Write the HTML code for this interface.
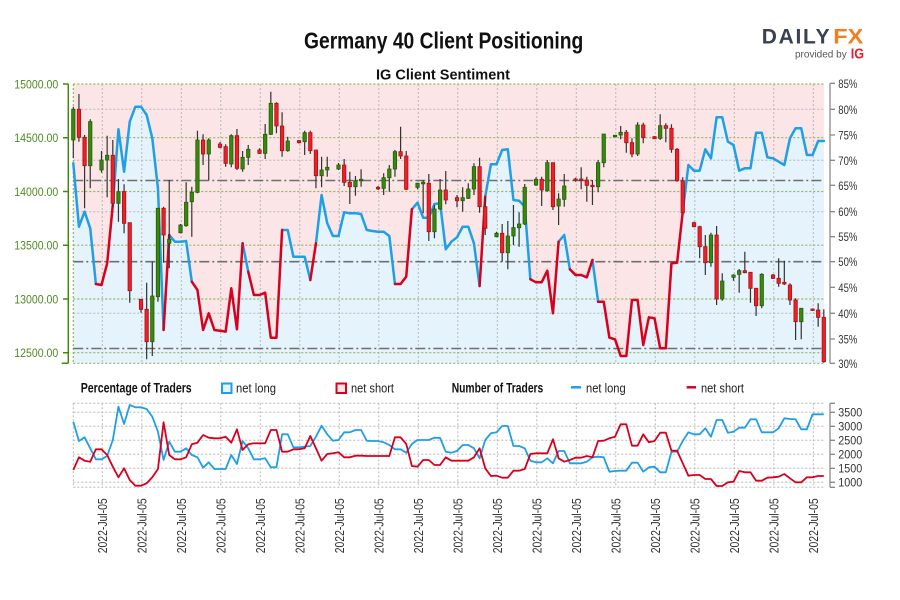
<!DOCTYPE html>
<html>
<head>
<meta charset="utf-8">
<style>
html,body{margin:0;padding:0;background:#fff;}
svg{display:block;}
text{font-family:"Liberation Sans",Arial,sans-serif;}
</style>
</head>
<body>
<svg width="900" height="600" viewBox="0 0 900 600" xmlns="http://www.w3.org/2000/svg">
<rect x="0" y="0" width="900" height="600" fill="#fff"/>

<!-- Titles -->
<text x="304" y="48.3" font-size="23" font-weight="bold" fill="#111" textLength="279.3" lengthAdjust="spacingAndGlyphs">Germany 40 Client Positioning</text>
<text x="376" y="79.3" font-size="14.5" font-weight="bold" fill="#111" textLength="134" lengthAdjust="spacingAndGlyphs">IG Client Sentiment</text>

<!-- Logo -->
<text x="761.7" y="43.3" font-size="21" font-weight="bold" fill="#3a4250" textLength="68" lengthAdjust="spacing">DAILY</text>
<text x="833.3" y="43.3" font-size="21" font-weight="bold" fill="#f47d20" textLength="30" lengthAdjust="spacingAndGlyphs">FX</text>
<text x="795" y="57.3" font-size="10.5" fill="#555" textLength="51.7" lengthAdjust="spacingAndGlyphs">provided by</text>
<text x="850.7" y="58.3" font-size="14.5" font-weight="bold" fill="#e11d2b" textLength="13.3" lengthAdjust="spacingAndGlyphs">IG</text>

<!-- Main plot background -->
<rect x="73.3" y="84" width="750.5" height="279.3" fill="#fce5e6"/>
<g transform="translate(73.3 0) scale(5.643 1)">
<polygon fill="#e5f3fc" points="0,163.3 1,226.7 2,211.7 3,228.3 4,284 5,285 6,263.3 7,205 8,129.3 9,171.7 10,121.7 11,106.7 12,106.7 13,115 14,138.3 15,188.3 16,330 17,235 18,241.7 19,241.7 20,241 21,281.7 22,290 23,330 24,313.3 25,330 26,330.7 27,331.7 28,288.3 29,329.3 30,243.3 31,271.7 32,295 33,295 34,292.7 35,337.7 36,337.7 37,230 38,230 39,256.7 40,256.7 41,256.7 42,280 43,243.3 44,195 45,223.3 46,236 47,236 48,212.3 49,213.3 50,213.3 51,214 52,230 53,231 54,231.7 55,231.7 56,236 57,284 58,284 59,276.7 60,209.3 61,202.7 62,217.7 63,217.7 64,204 65,203.3 66,249.3 67,241.7 68,237.3 69,226.7 70,226.7 71,243.3 72,286 73,196.7 74,164.3 75,164.3 76,150 77,149.3 78,200 79,200.7 80,206.7 81,279.3 82,282.3 83,282.3 84,270.7 85,313.3 86,241.7 87,235 88,269.3 89,275 90,275 91,277.3 92,260 93,301.7 94,301.7 95,337.7 96,339.3 97,356 98,356 99,300 100,300 101,345 102,317.3 103,318.3 104,348.3 105,348.3 106,263.3 107,262.7 108,212 109,165 110,170.7 111,170.7 112,149.3 113,158.3 114,117.3 115,117.3 116,141.7 117,145 118,170.7 119,168.3 120,168.3 121,132.7 122,132.7 123,157.3 124,158.3 125,161.7 126,165 127,138.3 128,128.3 129,128.3 130,155 131,155 132,141 133,141 133,363.3 0,363.3"/>
</g>

<!-- Main grid -->
<path d="M102.3 84V363.3M141.8 84V363.3M181.3 84V363.3M220.8 84V363.3M260.3 84V363.3M299.8 84V363.3M339.3 84V363.3M378.8 84V363.3M418.3 84V363.3M457.8 84V363.3M497.3 84V363.3M536.8 84V363.3M576.3 84V363.3M615.8 84V363.3M655.3 84V363.3M694.8 84V363.3M734.3 84V363.3M773.8 84V363.3M813.3 84V363.3" stroke="#b8b8b8" stroke-width="1" stroke-dasharray="2 2" fill="none"/>
<path d="M73.3 109.3H823.8M73.3 160.3H823.8M73.3 211.7H823.8M73.3 313.3H823.8" stroke="#b8b8b8" stroke-width="1" stroke-dasharray="2 2" fill="none"/>
<path d="M73.3 84H823.8M73.3 137.7H823.8M73.3 191.5H823.8M73.3 245.2H823.8M73.3 299H823.8M73.3 352.7H823.8M73.3 363.3H823.8M73.3 84V363.3" stroke="#93b563" stroke-width="1.2" stroke-dasharray="2 2" fill="none"/>
<path d="M73.3 180.5H823.8M73.3 261.7H823.8M73.3 348.5H823.8" stroke="#6e6e6e" stroke-width="1.6" stroke-dasharray="10 3 2 3" fill="none"/>

<!-- Sentiment line -->
<g transform="translate(73.3 0) scale(5.643 1)" fill="none" stroke-width="2.5" stroke-linejoin="round" stroke-linecap="round">
<g stroke="#1f9fe6">
<polyline vector-effect="non-scaling-stroke" points="0,163.3 1,226.7 2,211.7 3,228.3 4,284"/>
<polyline vector-effect="non-scaling-stroke" points="7,205 8,129.3 9,171.7 10,121.7 11,106.7 12,106.7 13,115 14,138.3 15,188.3 16,330"/>
<polyline vector-effect="non-scaling-stroke" points="17,235 18,241.7 19,241.7 20,241 21,281.7"/>
<polyline vector-effect="non-scaling-stroke" points="30,243.3 31,271.7"/>
<polyline vector-effect="non-scaling-stroke" points="37,230 38,230 39,256.7 40,256.7 41,256.7 42,280"/>
<polyline vector-effect="non-scaling-stroke" points="43,243.3 44,195 45,223.3 46,236 47,236 48,212.3 49,213.3 50,213.3 51,214 52,230 53,231 54,231.7 55,231.7 56,236 57,284"/>
<polyline vector-effect="non-scaling-stroke" points="60,209.3 61,202.7 62,217.7 63,217.7 64,204 65,203.3 66,249.3 67,241.7 68,237.3 69,226.7 70,226.7 71,243.3 72,286"/>
<polyline vector-effect="non-scaling-stroke" points="73,196.7 74,164.3 75,164.3 76,150 77,149.3 78,200 79,200.7 80,206.7 81,279.3"/>
<polyline vector-effect="non-scaling-stroke" points="86,241.7 87,235 88,269.3"/>
<polyline vector-effect="non-scaling-stroke" points="92,260 93,301.7"/>
<polyline vector-effect="non-scaling-stroke" points="108,212 109,165 110,170.7 111,170.7 112,149.3 113,158.3 114,117.3 115,117.3 116,141.7 117,145 118,170.7 119,168.3 120,168.3 121,132.7 122,132.7 123,157.3 124,158.3 125,161.7 126,165 127,138.3 128,128.3 129,128.3 130,155 131,155 132,141 133,141"/>
</g>
<g stroke="#d7001e">
<polyline vector-effect="non-scaling-stroke" points="4,284 5,285 6,263.3 7,205"/>
<polyline vector-effect="non-scaling-stroke" points="16,330 17,235"/>
<polyline vector-effect="non-scaling-stroke" points="21,281.7 22,290 23,330 24,313.3 25,330 26,330.7 27,331.7 28,288.3 29,329.3 30,243.3"/>
<polyline vector-effect="non-scaling-stroke" points="31,271.7 32,295 33,295 34,292.7 35,337.7 36,337.7 37,230"/>
<polyline vector-effect="non-scaling-stroke" points="42,280 43,243.3"/>
<polyline vector-effect="non-scaling-stroke" points="57,284 58,284 59,276.7 60,209.3"/>
<polyline vector-effect="non-scaling-stroke" points="72,286 73,196.7"/>
<polyline vector-effect="non-scaling-stroke" points="81,279.3 82,282.3 83,282.3 84,270.7 85,313.3 86,241.7"/>
<polyline vector-effect="non-scaling-stroke" points="88,269.3 89,275 90,275 91,277.3 92,260"/>
<polyline vector-effect="non-scaling-stroke" points="93,301.7 94,301.7 95,337.7 96,339.3 97,356 98,356 99,300 100,300 101,345 102,317.3 103,318.3 104,348.3 105,348.3 106,263.3 107,262.7 108,212"/>
</g>
</g>

<!-- Candles -->
<g transform="translate(73.3 0) scale(5.643 1)">
<path vector-effect="non-scaling-stroke" stroke="#333" stroke-width="1.2" fill="none" d="M0 106.7V158.3M1 94V141.7M2 135V208.3M3 119.3V188.3M5 151V172.7M6 135.7V197.3M7 140V206.7M8 179V221.7M9 184.3V233.3M10 222.7V302.7M12 299.3V312.7M13 282.7V359.3M14 261.7V356M15 208.3V301.7M16 206.7V262.7M17 180V268.3M19 224V233.3M20 182.3V226.7M21 186.7V236.7M22 130.7V193.3M23 134.3V165M24 138.3V180M26 142V148.3M27 144.3V166.7M28 134.3V167.3M29 129V170M30 151V171.7M31 145V165M33 148.3V154M34 124V159M35 91.7V135M36 102.3V133.3M37 112.3V156.7M38 136.7V151.7M40 140V143.5M41 130.7V155M42 130.7V154M43 150V188.3M44 156.7V187.3M45 156.7V176.7M47 163V170M48 159V186M49 171.7V204M50 176V195.7M51 169.3V186.7M54 186V190M55 173.3V195M56 165V191.7M57 150V176.7M58 126.7V159M59 151V190M61 182.7V189.3M62 180V213.3M63 174V241M64 205V238.3M65 179V210M66 171V204.3M68 195V207.3M69 187.3V211.7M70 183.3V199M71 163.3V195M72 157.7V212.7M73 197.3V235M75 231.7V237.3M76 224V261.7M77 221V269.3M78 205V245M79 212.3V246.7M80 184V225M82 177.3V186M83 176.7V206M84 160V191.7M85 162.7V210M86 193.3V225M87 174V206.7M89 177.7V181.7M90 167.3V189.3M91 176.7V201.7M92 180V205M93 160V192.3M94 134V167.3M96 135V137M97 126V139.3M98 130V152.7M99 138.3V157.3M100 122.3V156M101 122.7V143.3M103 136V139M104 114.3V140M105 123.3V142.3M106 124.3V152.7M107 148V181.7M108 177.3V213.3M110 221.7V227.3M111 225.7V258.3M112 235V275M113 232.7V266.7M114 226V305M115 273.3V300.7M117 274.3V280.7M118 269V292.7M119 251.7V273.3M120 272.3V302.7M121 288.3V316M122 273.3V308.3M124 274V279M125 258.3V286.7M126 260.7V285M127 283.3V305M128 298.3V340M129 308.3V339.3M131 308.5V311M132 303.3V326.7M133 309.3V362.7"/>
<path vector-effect="non-scaling-stroke" fill="#38880f" stroke="#245f08" stroke-width="0.8" d="M-.3 109.3H.3V140H-.3ZM2.7 121.7H3.3V165.7H2.7ZM4.7 160H5.3V170H4.7ZM5.7 155.3H6.3V160H5.7ZM7.7 191.7H8.3V203.3H7.7ZM13.7 296H14.3V341.7H13.7ZM14.7 208.3H15.3V296.7H14.7ZM16.7 239.3H17.3V243.3H16.7ZM18.7 225H19.3V232.7H18.7ZM19.7 202.3H20.3V225.7H19.7ZM20.7 192.3H21.3V201.7H20.7ZM21.7 140H22.3V192.3H21.7ZM23.7 140H24.3V154H23.7ZM27.7 135.7H28.3V164H27.7ZM29.7 157.3H30.3V169H29.7ZM30.7 149.3H31.3V157.3H30.7ZM33.7 134.3H34.3V153.3H33.7ZM34.7 103.3H35.3V134.3H34.7ZM37.7 141H38.3V150.7H37.7ZM40.7 132.7H41.3V141.7H40.7ZM43.7 170H44.3V175.7H43.7ZM44.7 167.3H45.3V170H44.7ZM46.7 165H47.3V169H46.7ZM49.7 180.7H50.3V186.7H49.7ZM50.7 179.3H51.3V180.8H50.7ZM54.7 177.7H55.3V188.3H54.7ZM55.7 169H56.3V177.7H55.7ZM56.7 151.7H57.3V169H56.7ZM60.7 183.3H61.3V187.3H60.7ZM61.7 182.3H62.3V183.8H61.7ZM63.7 209H64.3V231.7H63.7ZM64.7 190H65.3V209H64.7ZM68.7 197.7H69.3V200.7H68.7ZM69.7 189H70.3V198.3H69.7ZM70.7 166.7H71.3V189H70.7ZM74.7 233.3H75.3V236.7H74.7ZM76.7 236H77.3V252.7H76.7ZM77.7 227.7H78.3V236H77.7ZM78.7 224H79.3V227.7H78.7ZM79.7 187.3H80.3V224H79.7ZM81.7 179.3H82.3V185H81.7ZM83.7 162.7H84.3V190.7H83.7ZM85.7 199H86.3V206H85.7ZM86.7 186H87.3V199.3H86.7ZM92.7 162.7H93.3V186.7H92.7ZM93.7 134H94.3V162.7H93.7ZM95.7 135.3H96.3V136.8H95.7ZM96.7 132.3H97.3V135H96.7ZM99.7 125H100.3V154H99.7ZM103.7 125.7H104.3V138.3H103.7ZM112.7 235H113.3V262.7H112.7ZM114.7 281H115.3V299H114.7ZM116.7 275H117.3V277.3H116.7ZM117.7 270.7H118.3V274.3H117.7ZM121.7 274.3H122.3V305.7H121.7ZM128.7 308.3H129.3V321.7H128.7Z"/>
<path vector-effect="non-scaling-stroke" fill="#ef1f26" stroke="#a8121a" stroke-width="0.8" d="M.7 109.3H1.3V137.3H.7ZM1.7 137.3H2.3V165.7H1.7ZM6.7 155.3H7.3V203.3H6.7ZM8.7 191.7H9.3V223.3H8.7ZM9.7 222.7H10.3V290.7H9.7ZM11.7 299.3H12.3V309.3H11.7ZM12.7 309.3H13.3V341.7H12.7ZM15.7 208.3H16.3V235H15.7ZM22.7 140H23.3V154H22.7ZM25.7 144H26.3V147.3H25.7ZM26.7 146.7H27.3V163.3H26.7ZM28.7 135.7H29.3V168.3H28.7ZM32.7 150H33.3V153.3H32.7ZM35.7 103.3H36.3V126H35.7ZM36.7 126H37.3V150.7H36.7ZM39.7 140.7H40.3V142.7H39.7ZM41.7 132.7H42.3V150.7H41.7ZM42.7 150H43.3V175.7H42.7ZM47.7 165H48.3V182.3H47.7ZM48.7 182.3H49.3V186.7H48.7ZM53.7 187.3H54.3V188.8H53.7ZM57.7 151.7H58.3V156H57.7ZM58.7 156H59.3V189.3H58.7ZM62.7 183.3H63.3V231.7H62.7ZM65.7 190H66.3V200H65.7ZM67.7 197.7H68.3V200.7H67.7ZM71.7 166.7H72.3V206.7H71.7ZM72.7 206.7H73.3V228.3H72.7ZM75.7 233.3H76.3V252.7H75.7ZM82.7 179.3H83.3V190H82.7ZM84.7 162.7H85.3V206.7H84.7ZM88.7 179H89.3V180.5H88.7ZM89.7 179H90.3V180.5H89.7ZM90.7 180H91.3V185.3H90.7ZM91.7 185.3H92.3V186.7H91.7ZM97.7 132.3H98.3V142.7H97.7ZM98.7 142.7H99.3V154H98.7ZM100.7 125H101.3V137.7H100.7ZM102.7 136.7H103.3V138.7H102.7ZM104.7 125.7H105.3V128.3H104.7ZM105.7 128.3H106.3V149.3H105.7ZM106.7 149.3H107.3V180.7H106.7ZM107.7 180.7H108.3V212.7H107.7ZM109.7 222.7H110.3V226.7H109.7ZM110.7 226.7H111.3V246.7H110.7ZM111.7 246.7H112.3V262.7H111.7ZM113.7 235H114.3V299H113.7ZM118.7 270.7H119.3V272.7H118.7ZM119.7 272.3H120.3V288.3H119.7ZM120.7 288.3H121.3V305.7H120.7ZM123.7 275H124.3V278.3H123.7ZM124.7 278.3H125.3V283.3H124.7ZM125.7 282.3H126.3V284H125.7ZM126.7 285H127.3V300H126.7ZM127.7 300H128.3V321.7H127.7ZM130.7 309H131.3V310.5H130.7ZM131.7 310H132.3V317.3H131.7ZM132.7 317.3H133.3V361.7H132.7Z"/>
</g>

<!-- Left axis -->
<path d="M68.3 84V363.3M63 84H68.3M63 137.7H68.3M63 191.5H68.3M63 245.2H68.3M63 299H68.3M63 352.7H68.3M61.7 363.3H68.3" stroke="#3d8c0a" stroke-width="1.5" fill="none"/>
<g font-size="11.5" fill="#4d8b21">
<text x="14.3" y="88.3" textLength="44" lengthAdjust="spacingAndGlyphs">15000.00</text>
<text x="14.3" y="142" textLength="44" lengthAdjust="spacingAndGlyphs">14500.00</text>
<text x="14.3" y="195.8" textLength="44" lengthAdjust="spacingAndGlyphs">14000.00</text>
<text x="14.3" y="249.5" textLength="44" lengthAdjust="spacingAndGlyphs">13500.00</text>
<text x="14.3" y="303.3" textLength="44" lengthAdjust="spacingAndGlyphs">13000.00</text>
<text x="14.3" y="357" textLength="44" lengthAdjust="spacingAndGlyphs">12500.00</text>
</g>

<!-- Right axis main -->
<path d="M830 83.3V363.3M830 83.3H835M830 109.3H835M830 135H835M830 160.3H835M830 185.3H835M830 211.7H835M830 236.7H835M830 261.7H835M830 287.3H835M830 313.3H835M830 339H835M830 363.3H835" stroke="#8a8a8a" stroke-width="1.3" fill="none"/>
<g font-size="11.5" fill="#333">
<text x="838.3" y="87.8" textLength="19" lengthAdjust="spacingAndGlyphs">85%</text>
<text x="838.3" y="113.8" textLength="19" lengthAdjust="spacingAndGlyphs">80%</text>
<text x="838.3" y="139.5" textLength="19" lengthAdjust="spacingAndGlyphs">75%</text>
<text x="838.3" y="164.8" textLength="19" lengthAdjust="spacingAndGlyphs">70%</text>
<text x="838.3" y="189.8" textLength="19" lengthAdjust="spacingAndGlyphs">65%</text>
<text x="838.3" y="216.2" textLength="19" lengthAdjust="spacingAndGlyphs">60%</text>
<text x="838.3" y="241.2" textLength="19" lengthAdjust="spacingAndGlyphs">55%</text>
<text x="838.3" y="266.2" textLength="19" lengthAdjust="spacingAndGlyphs">50%</text>
<text x="838.3" y="291.8" textLength="19" lengthAdjust="spacingAndGlyphs">45%</text>
<text x="838.3" y="317.8" textLength="19" lengthAdjust="spacingAndGlyphs">40%</text>
<text x="838.3" y="343.5" textLength="19" lengthAdjust="spacingAndGlyphs">35%</text>
<text x="838.3" y="367.8" textLength="19" lengthAdjust="spacingAndGlyphs">30%</text>
</g>

<!-- Legend -->
<text x="80.7" y="392.3" font-size="13.5" font-weight="bold" fill="#111" textLength="111" lengthAdjust="spacingAndGlyphs">Percentage of Traders</text>
<rect x="222" y="383.5" width="9.5" height="9.5" fill="#e5f3fc" stroke="#1f9fe6" stroke-width="2"/>
<text x="236" y="392.5" font-size="13" fill="#222" textLength="40" lengthAdjust="spacingAndGlyphs">net long</text>
<rect x="336.5" y="383.5" width="9.5" height="9.5" fill="#fce5e6" stroke="#d7001e" stroke-width="2"/>
<text x="351" y="392.5" font-size="13" fill="#222" textLength="43" lengthAdjust="spacingAndGlyphs">net short</text>
<text x="451.7" y="392.3" font-size="13.5" font-weight="bold" fill="#111" textLength="91.6" lengthAdjust="spacingAndGlyphs">Number of Traders</text>
<path d="M571 387.3H581" stroke="#1f9fe6" stroke-width="2.5"/>
<text x="586" y="392.5" font-size="13" fill="#222" textLength="39.7" lengthAdjust="spacingAndGlyphs">net long</text>
<path d="M686.7 387.3H696" stroke="#d7001e" stroke-width="2.5"/>
<text x="701" y="392.5" font-size="13" fill="#222" textLength="43" lengthAdjust="spacingAndGlyphs">net short</text>

<!-- Bottom chart grid -->
<path d="M102.3 403.3V487.3M141.8 403.3V487.3M181.3 403.3V487.3M220.8 403.3V487.3M260.3 403.3V487.3M299.8 403.3V487.3M339.3 403.3V487.3M378.8 403.3V487.3M418.3 403.3V487.3M457.8 403.3V487.3M497.3 403.3V487.3M536.8 403.3V487.3M576.3 403.3V487.3M615.8 403.3V487.3M655.3 403.3V487.3M694.8 403.3V487.3M734.3 403.3V487.3M773.8 403.3V487.3M813.3 403.3V487.3M73.3 403.3V487.3M73.3 403.3H823.8M73.3 412.3H823.8M73.3 426.3H823.8M73.3 440.3H823.8M73.3 454.3H823.8M73.3 468.3H823.8M73.3 482.3H823.8M73.3 487.3H823.8" stroke="#b8b8b8" stroke-width="1" stroke-dasharray="2 2" fill="none"/>

<!-- Bottom lines -->
<g transform="translate(73.3 0) scale(5.643 1)" fill="none" stroke-width="1.8" stroke-linejoin="round">
<polyline vector-effect="non-scaling-stroke" stroke="#1f9fe6" points="0,421.7 1,441 2,437.3 3,448.3 4,459.3 5,459.3 6,456 7,440 8,406.7 9,424 10,405 11,407.3 12,407.3 13,409 14,416.7 15,431.7 16,460 17,441.7 18,451.7 19,451.7 20,448.3 21,455 22,457.3 23,467.7 24,462.3 25,469 26,469 27,469 28,455 29,464 30,441 31,448.3 32,459.3 33,459.3 34,458.3 35,467.3 36,467.3 37,434.3 38,434.3 39,447.3 40,447.3 41,446.7 42,446 43,436.7 44,425.7 45,434.3 46,440.7 47,440 48,432.3 49,432.3 50,430 51,430 52,440.7 53,441 54,441 55,442.3 56,445 57,449.3 58,449.3 59,452.7 60,444 61,440 62,440 63,440 64,437.7 65,438 66,451.7 67,452.7 68,451 69,445 70,445 71,448.3 72,458.3 73,440 74,433.3 75,432.3 76,426 77,426 78,446 79,446 80,448.3 81,460.7 82,462.3 83,462.3 84,458.3 85,463.3 86,451 87,451 88,463.3 89,463.3 90,463.3 91,461.7 92,457.3 93,456.7 94,457.3 95,471.7 96,471 97,470.7 98,470.7 99,462.7 100,462.7 101,471.7 102,467.3 103,466.7 104,472.3 105,472.3 106,451.7 107,451.7 108,441 109,432.3 110,434.3 111,434.3 112,428.3 113,436.7 114,420 115,420 116,432.7 117,431.7 118,427.7 119,427.7 120,419.3 121,419.3 122,432.3 123,432.3 124,432.3 125,428.3 126,418.3 127,419 128,419.3 129,429.3 130,429.3 131,414.3 132,414.3 133,414.3"/>
<polyline vector-effect="non-scaling-stroke" stroke="#d7001e" points="0,470 1,457.3 2,460.7 3,461.7 4,449.3 5,449.3 6,455 7,466.7 8,477.3 9,468.3 10,480 11,485.7 12,485.7 13,483.3 14,477.3 15,469 16,422.3 17,455 18,459.3 19,459.3 20,457.3 21,444.3 22,442.7 23,435 24,437.7 25,438.3 26,438.3 27,436.7 28,442.7 29,429.3 30,450 31,444.3 32,443.3 33,443.3 34,443.3 35,430 36,430 37,451.7 38,451.7 39,449.3 40,449.3 41,448.3 42,436 43,448.3 44,460.7 45,454 46,453.3 47,452.3 48,457.3 49,457.3 50,455.7 51,455.7 52,456 53,456 54,456 55,456 56,456 57,437.3 58,437.3 59,444 60,466 61,466.7 62,460 63,460 64,465 65,465 66,457.3 67,460.7 68,460.7 69,460.7 70,460.7 71,457.3 72,448.3 73,468.3 74,476 75,475.7 76,477.7 77,477.7 78,470.7 79,470.7 80,469 81,454 82,453.3 83,453.3 84,453.3 85,439.3 86,458.3 87,461.7 88,460 89,457.7 90,457.7 91,456 92,457.3 93,441 94,440.7 95,438.3 96,436.7 97,424.3 98,424.3 99,445.7 100,445.7 101,434.3 102,442.3 103,441 104,432.7 105,432.7 106,450.7 107,450.7 108,463.3 109,475.7 110,475 111,475 112,479 113,479 114,486 115,486 116,482.3 117,481.7 118,471 119,472.3 120,472.3 121,480.7 122,480.7 123,477.7 124,477.3 125,476.7 126,474 127,478.3 128,482.3 129,482.3 130,477.3 131,477.3 132,476 133,476"/>
</g>

<!-- Bottom right axis -->
<path d="M830 403.3V487.3M830 403.3H835M830 412.3H835M830 426.3H835M830 440.3H835M830 454.3H835M830 468.3H835M830 482.3H835M830 487.3H835" stroke="#8a8a8a" stroke-width="1.3" fill="none"/>
<g font-size="11.5" fill="#333">
<text x="838.3" y="416.6" textLength="24" lengthAdjust="spacingAndGlyphs">3500</text>
<text x="838.3" y="430.6" textLength="24" lengthAdjust="spacingAndGlyphs">3000</text>
<text x="838.3" y="444.6" textLength="24" lengthAdjust="spacingAndGlyphs">2500</text>
<text x="838.3" y="458.6" textLength="24" lengthAdjust="spacingAndGlyphs">2000</text>
<text x="838.3" y="472.6" textLength="24" lengthAdjust="spacingAndGlyphs">1500</text>
<text x="838.3" y="486.6" textLength="24" lengthAdjust="spacingAndGlyphs">1000</text>
</g>

<!-- X labels -->
<g font-size="13" fill="#333">
<text transform="translate(107.1 553.3) rotate(-90)" textLength="55" lengthAdjust="spacingAndGlyphs">2022-Jul-05</text>
<text transform="translate(146.6 553.3) rotate(-90)" textLength="55" lengthAdjust="spacingAndGlyphs">2022-Jul-05</text>
<text transform="translate(186.1 553.3) rotate(-90)" textLength="55" lengthAdjust="spacingAndGlyphs">2022-Jul-05</text>
<text transform="translate(225.6 553.3) rotate(-90)" textLength="55" lengthAdjust="spacingAndGlyphs">2022-Jul-05</text>
<text transform="translate(265.1 553.3) rotate(-90)" textLength="55" lengthAdjust="spacingAndGlyphs">2022-Jul-05</text>
<text transform="translate(304.6 553.3) rotate(-90)" textLength="55" lengthAdjust="spacingAndGlyphs">2022-Jul-05</text>
<text transform="translate(344.1 553.3) rotate(-90)" textLength="55" lengthAdjust="spacingAndGlyphs">2022-Jul-05</text>
<text transform="translate(383.6 553.3) rotate(-90)" textLength="55" lengthAdjust="spacingAndGlyphs">2022-Jul-05</text>
<text transform="translate(423.1 553.3) rotate(-90)" textLength="55" lengthAdjust="spacingAndGlyphs">2022-Jul-05</text>
<text transform="translate(462.6 553.3) rotate(-90)" textLength="55" lengthAdjust="spacingAndGlyphs">2022-Jul-05</text>
<text transform="translate(502.1 553.3) rotate(-90)" textLength="55" lengthAdjust="spacingAndGlyphs">2022-Jul-05</text>
<text transform="translate(541.6 553.3) rotate(-90)" textLength="55" lengthAdjust="spacingAndGlyphs">2022-Jul-05</text>
<text transform="translate(581.1 553.3) rotate(-90)" textLength="55" lengthAdjust="spacingAndGlyphs">2022-Jul-05</text>
<text transform="translate(620.6 553.3) rotate(-90)" textLength="55" lengthAdjust="spacingAndGlyphs">2022-Jul-05</text>
<text transform="translate(660.1 553.3) rotate(-90)" textLength="55" lengthAdjust="spacingAndGlyphs">2022-Jul-05</text>
<text transform="translate(699.6 553.3) rotate(-90)" textLength="55" lengthAdjust="spacingAndGlyphs">2022-Jul-05</text>
<text transform="translate(739.1 553.3) rotate(-90)" textLength="55" lengthAdjust="spacingAndGlyphs">2022-Jul-05</text>
<text transform="translate(778.6 553.3) rotate(-90)" textLength="55" lengthAdjust="spacingAndGlyphs">2022-Jul-05</text>
<text transform="translate(818.1 553.3) rotate(-90)" textLength="55" lengthAdjust="spacingAndGlyphs">2022-Jul-05</text>
</g>
</svg>
</body>
</html>
